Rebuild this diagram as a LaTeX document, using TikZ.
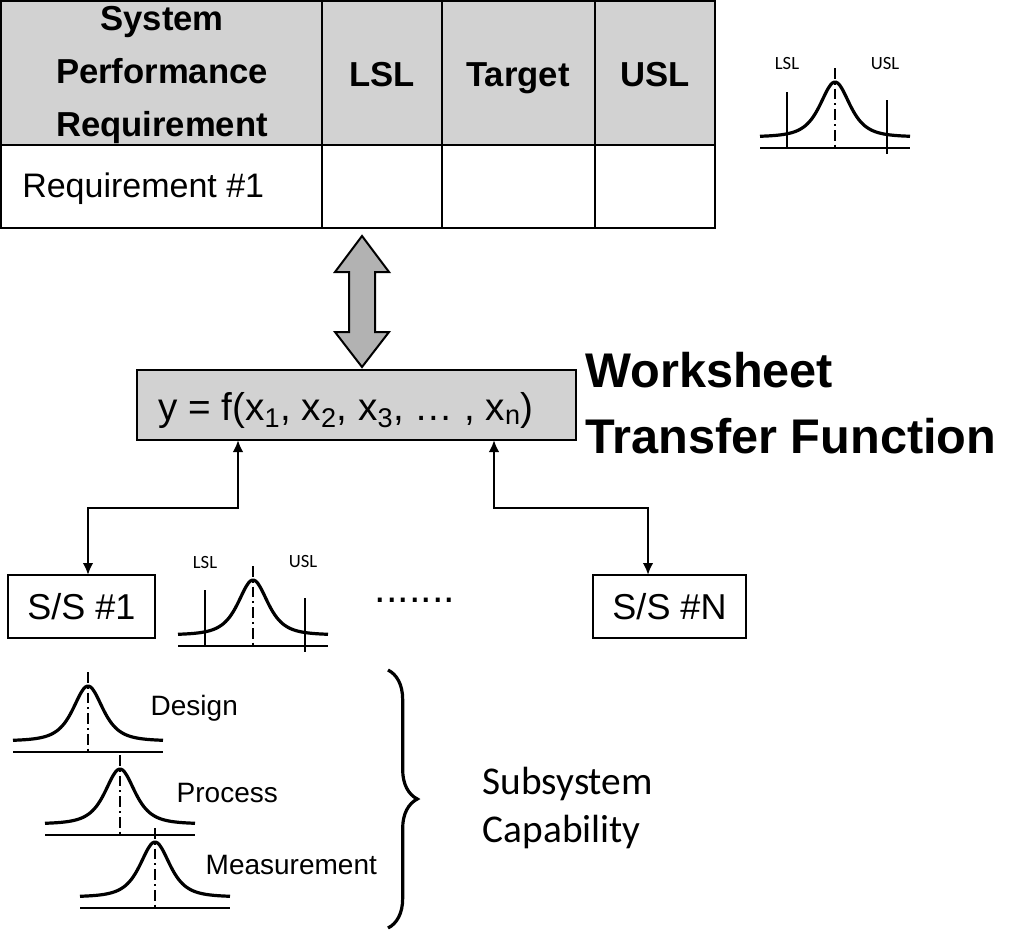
\documentclass[tikz,border=0pt]{standalone}
\usepackage{fontspec}
\setmainfont{Liberation Sans}
\newfontfamily\carl{Carlito}
\usetikzlibrary{arrows.meta,decorations.pathreplacing}
\begin{document}
\begin{tikzpicture}[x=0.75pt,y=-0.75pt,
  box/.style={draw,line width=1.5pt,inner sep=0},
  conn/.style={line width=2pt,{Latex[length=9pt,width=8pt]}-{Latex[length=9pt,width=8pt]}},
  curve/.style={line width=2.4pt},
  thin/.style={line width=1.2pt},
  ctr/.style={line width=1.2pt,dash pattern=on 8pt off 3pt on 1.5pt off 3pt},
  lbl/.style={font=\carl\fontsize{14}{14}\selectfont},
  sub/.style={font=\fontsize{21}{21}\selectfont,anchor=west},
  hd/.style={font=\bfseries\fontsize{26}{30}\selectfont,anchor=base},
  pics/bell/.style={code={
    \draw[curve] plot[domain=-75:75,samples=80,smooth] (\x,{-55/(1+(\x/27)^2)^2-3});
    \draw[thin] (-75,8)--(75,8);
    \draw[ctr] (0,-72)--(0,8);
  }},
  pics/spec/.style={code={
    \pic{bell};
    \draw[thin] (-48,-48)--(-48,8);
    \draw[thin] (52,-40)--(52,14);
    \node[lbl] at (-48,-76) {LSL};
    \node[lbl] at (50,-76) {USL};
  }}]
\useasboundingbox (0,0) rectangle (1024,935);
% table
\fill[gray!35] (1,1) rectangle (715,145);
\draw[line width=1.5pt] (1,1) rectangle (715,228);
\draw[line width=1.5pt] (1,145)--(715,145) (322,1)--(322,228) (442,1)--(442,228) (595,1)--(595,228);
\node[font=\bfseries\fontsize{26}{40}\selectfont,align=center] (h1) at (162,75) {System\\Performance\\Requirement};
\node[hd] (h2) at (382,86) {LSL};
\node[hd] (h3) at (518,86) {Target};
\node[hd] (h4) at (655,86) {USL};
\node[font=\fontsize{25.5}{30}\selectfont,anchor=base west,inner sep=0] (r1) at (22,197) {Requirement \#1};
\pic at (835,140) {spec};
% double arrow
\draw[line width=1.5pt,fill=gray!60] (362,236)--(389,272)--(375,272)--(375,332)--(389,332)--(362,367)--(335,332)--(349,332)--(349,272)--(335,272)--cycle;
% function box
\node[box,fill=gray!35,minimum width=439*0.75pt,minimum height=70*0.75pt] (f) at (356.5,405) {};
\node[font=\fontsize{29}{32}\selectfont,anchor=base west,inner sep=0] (ft) at (158,420) {y = f(x\textsubscript{1}, x\textsubscript{2}, x\textsubscript{3}, \dots\ , x\textsubscript{n})};
\node[font=\bfseries\fontsize{36.5}{50}\selectfont,align=left,anchor=west,inner sep=0] (ws) at (585,403) {Worksheet\\Transfer Function};
% subsystem boxes
\node[box,minimum width=147*0.75pt,minimum height=63*0.75pt,font=\fontsize{27}{28}\selectfont] (s1) at (81.5,606.5) {S/S \#1};
\node[box,minimum width=153*0.75pt,minimum height=63*0.75pt,font=\fontsize{27}{28}\selectfont] (sn) at (669.5,606.5) {S/S \#N};
\node[font=\fontsize{31}{31}\selectfont] (dots) at (415,600) {.......};
\coordinate (a1) at (238,440);
\coordinate (a2) at (494,440);
\coordinate (b1) at (88,575);
\coordinate (b2) at (648,575);
\draw[conn] (a1)--(238,508)--(88,508)--(b1);
\draw[conn] (a2)--(494,508)--(648,508)--(b2);
\pic at (253,638) {spec};
% bells
\pic at (88,744) {bell};
\node[sub] (d) at (146,708) {Design};
\pic at (120,827) {bell};
\node[sub] (p) at (172,793) {Process};
\pic at (155,900) {bell};
\node[sub] (m) at (201,865) {Measurement};
\draw[line width=2.4pt,decorate,decoration={brace,amplitude=22pt}] (388,670)--(388,928);
\node[font=\carl\fontsize{29.5}{36}\selectfont,align=left,anchor=west] (sc) at (478,808) {Subsystem\\Capability};
\end{tikzpicture}
\end{document}
